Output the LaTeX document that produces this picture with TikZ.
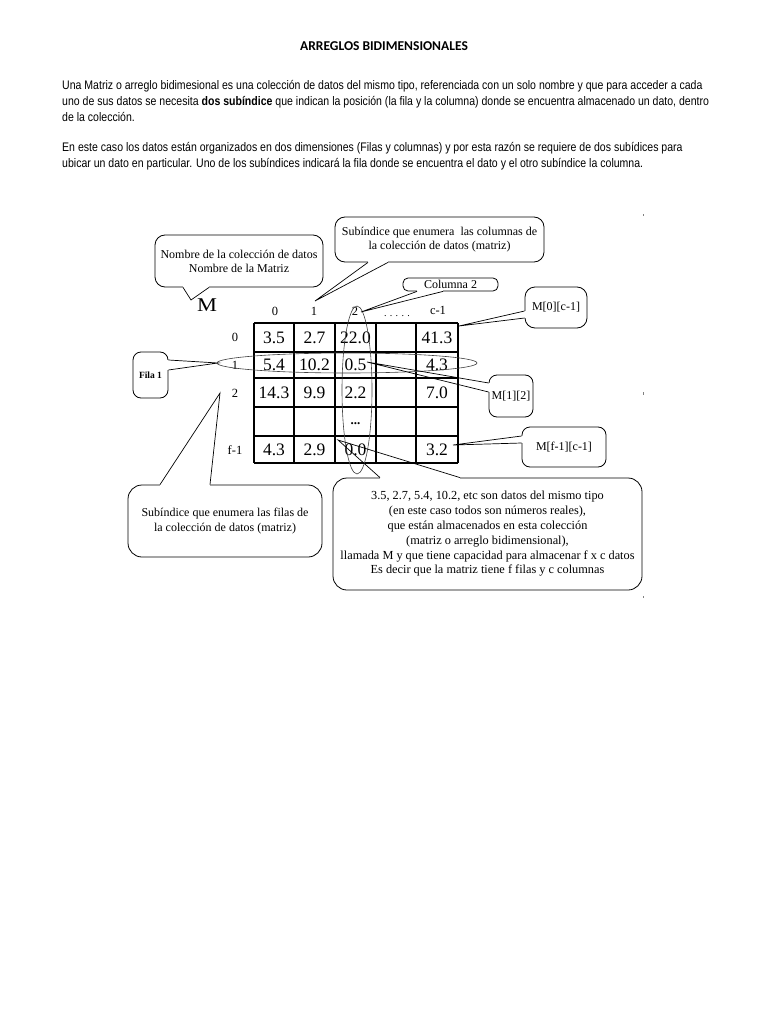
\documentclass[tikz,border=0pt]{standalone}
\usepackage{fontspec}
\setmainfont{Liberation Serif}
\newfontfamily\bodyfont[FakeStretch=0.85]{Liberation Sans}
\newfontfamily\titlefont{Carlito}
\newfontfamily\wideserif[FakeStretch=1.15]{Liberation Serif}
\usetikzlibrary{calc,shapes.geometric}
\begin{document}
\begin{tikzpicture}[x=1pt,y=-1pt,
  callout/.style={draw, line width=0.8pt, rounded corners=10pt, align=center, inner sep=0pt, font=\fontsize{12}{14}\selectfont},
  tail/.style={line width=0.7pt},
  gap/.style={white, line width=2.2pt},
  cell/.style={font=\fontsize{17.5}{17.5}\selectfont, inner sep=0pt},
  idx/.style={font=\fontsize{12.5}{12.5}\selectfont, inner sep=0pt},
  ring/.style={draw=gray!50!black, line width=0.6pt},
  bodyline/.style={anchor=base west, inner sep=0pt, font=\bodyfont\fontsize{12.4}{16}\selectfont},
  grid/.style={line width=1.1pt},
]
\useasboundingbox (0,0) rectangle (768,1024);
\fill[white] (0,0) rectangle (768,1024);

% title and text
\node[font=\titlefont\bfseries\fontsize{13.5}{14}\selectfont, inner sep=0pt] (title) at (384,46) {ARREGLOS BIDIMENSIONALES};
\node[bodyline] (p1a) at (62,90) {Una Matriz o arreglo bidimesional es una colección de datos del mismo tipo, referenciada con un solo nombre y que para acceder a cada};
\node[bodyline] (p1b) at (62,106) {uno de sus datos se necesita \textbf{dos subíndice} que indican la posición (la fila y la columna) donde se encuentra almacenado un dato, dentro};
\node[bodyline] (p1c) at (62,122) {de la colección.};
\node[bodyline] (p2a) at (62,152) {En este caso los datos están organizados en dos dimensiones (Filas y columnas) y por esta razón se requiere de dos subídices para};
\node[bodyline] (p2b) at (62,168) {ubicar un dato en particular. Uno de los subíndices indicará la fila donde se encuentra el dato y el otro subíndice la columna.};

% grid
\foreach \x in {254,294,335,376,416,458} \draw[grid] (\x,323) -- (\x,463);
\foreach \y in {323,352,378,407,436,463} \draw[grid] (254,\y) -- (458,\y);

% values
\node[cell] (v00) at (274,337.5) {3.5};
\node[cell] (v01) at (314.5,337.5) {2.7};
\node[cell] (v02) at (355.5,337.5) {22.0};
\node[cell] (v04) at (437,337.5) {41.3};
\node[cell] (v10) at (274,365) {5.4};
\node[cell] (v11) at (314.5,365) {10.2};
\node[cell] (v12) at (355.5,365) {0.5};
\node[cell] (v14) at (437,365) {4.3};
\node[cell] (v20) at (274,392.5) {14.3};
\node[cell] (v21) at (314.5,392.5) {9.9};
\node[cell] (v22) at (355.5,392.5) {2.2};
\node[cell] (v24) at (437,392.5) {7.0};
\node[cell, font=\fontsize{13}{13}\selectfont\bfseries] (v32) at (355.5,424) {...};
\node[cell] (v40) at (274,449.5) {4.3};
\node[cell] (v41) at (314.5,449.5) {2.9};
\node[cell] (v42) at (355.5,449.5) {0.0};
\node[cell] (v44) at (437,449.5) {3.2};

% indices
\node[font=\wideserif\fontsize{19.5}{19.5}\selectfont, inner sep=0pt] (M) at (207,305) {M};
\node[idx] (h0) at (275,311) {0};
\node[idx] (h1) at (314,311) {1};
\node[idx] (h2) at (355,311) {2};
\node[idx, font=\fontsize{10}{10}\selectfont] (hd) at (397,316) {. . . . .};
\node[idx] (hc) at (438,310) {c-1};
\node[idx] (r0) at (235,337) {0};
\node[idx] (r1) at (235,365) {1};
\node[idx] (r2) at (235,393) {2};
\node[idx] (rf) at (235,450) {f-1};

% ellipses
\node[ring, ellipse, minimum width=260, minimum height=20, inner sep=0pt] (rowring) at (347,363) {};
\node[ring, ellipse, minimum width=30, minimum height=168, inner sep=0pt] (colring) at (357,390) {};

% callout: nombre
\node[callout, minimum width=168, minimum height=52] (nombre) at (239,261) {Nombre de la colección de datos\\Nombre de la Matriz};
\coordinate (tipM) at (191,300);
\draw[gap] ($(nombre.south)+(-56,0)$) -- ($(nombre.south)+(-30,0)$);
\draw[tail] ($(nombre.south)+(-56,0)$) -- (tipM) -- ($(nombre.south)+(-30,0)$);

% callout: columnas
\node[callout, minimum width=209, minimum height=45] (cols) at (439.5,239.5) {Subíndice que enumera\ \ las columnas de\\la colección de datos (matriz)};
\coordinate (tip1) at (315,301);
\draw[gap] ($(cols.south)+(-71.5,0)$) -- ($(cols.south)+(-51.5,0)$);
\draw[tail] ($(cols.south)+(-71.5,0)$) -- (tip1) -- ($(cols.south)+(-51.5,0)$);

% callout: columna 2
\node[callout, rounded corners=5pt, minimum width=95, minimum height=13] (col2) at (450.5,284.5) {Columna 2};
\coordinate (tip2) at (361,312);
\draw[gap] ($(col2.south)+(-33.5,0)$) -- ($(col2.south)+(-7.5,0)$);
\draw[tail] ($(col2.south)+(-33.5,0)$) -- (tip2) -- ($(col2.south)+(-7.5,0)$);

% callout: M[0][c-1]
\node[callout, minimum width=62, minimum height=41] (m0c) at (556,307.5) {M[0][c-1]};
\coordinate (tip3) at (459,326);
\draw[gap] ($(m0c.west)+(0,3.5)$) -- ($(m0c.west)+(0,10.5)$);
\draw[tail] ($(m0c.west)+(0,3.5)$) -- (tip3) -- ($(m0c.west)+(0,10.5)$);

% callout: Fila 1
\node[callout, rounded corners=8pt, minimum width=35, minimum height=46, font=\fontsize{9.5}{10}\selectfont\bfseries] (fila) at (150.5,375) {Fila 1};
\coordinate (tip4) at (218,363);
\draw[gap] ($(fila.east)+(0,-15)$) -- ($(fila.east)+(0,-5)$);
\draw[tail] ($(fila.east)+(0,-15)$) -- (tip4) -- ($(fila.east)+(0,-5)$);

% callout: M[1][2]
\node[callout, rounded corners=8pt, minimum width=44, minimum height=42] (m12) at (511,396) {M[1][2]};
\coordinate (tip5) at (367,362);
\draw[gap] ($(m12.west)+(0,-13)$) -- ($(m12.west)+(0,-4)$);
\draw[tail] ($(m12.west)+(0,-13)$) -- (tip5) -- ($(m12.west)+(0,-4)$);

% callout: M[f-1][c-1]
\node[callout, rounded corners=8pt, minimum width=84, minimum height=40] (mfc) at (564,447) {M[f-1][c-1]};
\coordinate (tip6) at (453,445);
\draw[gap] ($(mfc.west)+(0,-11)$) -- ($(mfc.west)+(0,-4)$);
\draw[tail] ($(mfc.west)+(0,-11)$) -- (tip6) -- ($(mfc.west)+(0,-4)$);

% callout: filas
\node[callout, rounded corners=14pt, minimum width=194, minimum height=72, font=\fontsize{12}{14.5}\selectfont] (filas) at (225,521) {Subíndice que enumera las filas de\\la colección de datos (matriz)};
\coordinate (tip7) at (220,393);
\draw[gap] ($(filas.north)+(-65,0)$) -- ($(filas.north)+(-15,0)$);
\draw[tail] ($(filas.north)+(-65,0)$) -- (tip7) -- ($(filas.north)+(-15,0)$);

% callout: big
\node[callout, rounded corners=14pt, minimum width=309, minimum height=112, font=\fontsize{12.3}{14.8}\selectfont] (big) at (487.5,534) {3.5, 2.7, 5.4, 10.2, etc son datos del mismo tipo\\(en este caso todos son números reales),\\que están almacenados en esta colección\\(matriz o arreglo bidimensional),\\llamada M y que tiene capacidad para almacenar f x c datos\\Es decir que la matriz tiene f filas y c columnas};
\coordinate (tip8) at (338,440);
\draw[gap] ($(big.north)+(-107.5,0)$) -- ($(big.north)+(-27.5,0)$);
\draw[tail] ($(big.north)+(-107.5,0)$) -- (tip8) -- ($(big.north)+(-27.5,0)$);

% small page marks
\fill[gray] (642.5,214) rectangle (643.5,216);
\fill[gray] (642.5,392) rectangle (643.5,395);
\fill[gray] (642.5,596) rectangle (643.5,598);
\end{tikzpicture}
\end{document}
